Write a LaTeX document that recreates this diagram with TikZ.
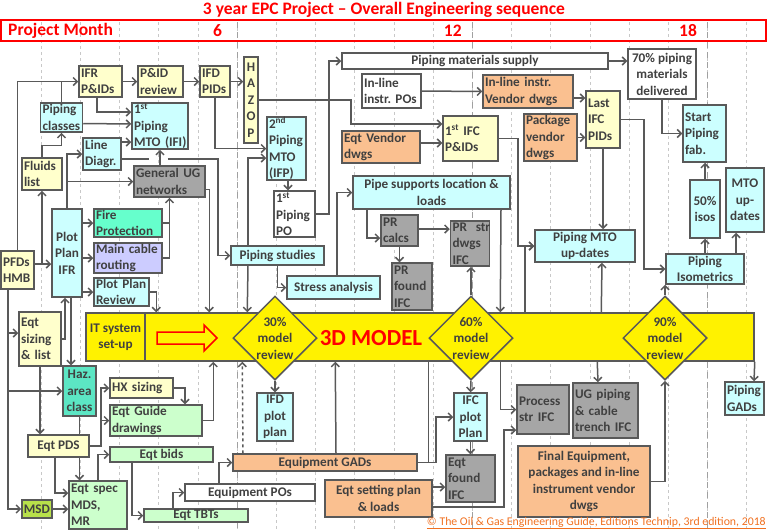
\documentclass[tikz,border=0pt]{standalone}
\usepackage{fontspec}
\setmainfont{Carlito}
\usetikzlibrary{shapes.geometric,arrows.meta,positioning}

\definecolor{lncol}{HTML}{595959}
\definecolor{txtcol}{HTML}{404040}
\definecolor{lyel}{HTML}{FFFFCC}
\definecolor{lcyan}{HTML}{CCFFFF}
\definecolor{lorange}{HTML}{FAC090}
\definecolor{lgray}{HTML}{A6A6A6}
\definecolor{lgreen}{HTML}{CCFFCC}
\definecolor{mint}{HTML}{66FFCC}
\definecolor{hazcol}{HTML}{5CE6C4}
\definecolor{lilac}{HTML}{CCCCFF}
\definecolor{limecol}{HTML}{B8E04A}
\definecolor{copycol}{HTML}{F07020}
\definecolor{gridl}{HTML}{C8C8C8}
\definecolor{gridd}{HTML}{A0A0A0}

\pgfdeclarelayer{grid}
\pgfdeclarelayer{links}
\pgfsetlayers{grid,links,main}

\begin{document}
\begin{tikzpicture}[
    x=1pt, y=-1pt,
    box/.style={rectangle, draw=lncol, line width=1.5pt, inner xsep=2pt, inner ysep=0pt, text=txtcol, font=\fontsize{13.2}{16.5}\selectfont\bfseries},
    lbox/.style={box, align=left},
    cbox/.style={box, align=center},
    sz/.style 2 args={minimum width=#1pt, minimum height=#2pt},
    review/.style={diamond, draw=lncol, line width=1.5pt, fill=yellow, aspect=1, inner sep=0pt, minimum size=84pt, align=center, text=txtcol, font=\fontsize{13.2}{16.5}\selectfont\bfseries},
    link/.style={draw=lncol, line width=1.5pt},
    arrow/.style={link, -{Straight Barb[length=4pt,width=8pt]}}
]
\useasboundingbox (0,0) rectangle (768,531);

% Month grid
\begin{pgfonlayer}{grid}
\foreach \m in {1,...,19}
  \draw[gridl, line width=0.8pt, dash pattern=on 3pt off 3pt] (2+39.2*\m,22) -- (2+39.2*\m,531);
\foreach \m in {6,12,18}
  \draw[gridd, line width=1.3pt, dash pattern=on 6pt off 4pt] (2+39.2*\m,22) -- (2+39.2*\m,531);
\end{pgfonlayer}

% Title and month bar
\node[text=red, font=\fontsize{17.5}{20}\selectfont\bfseries] (title) at (384,9.5) {3 year EPC Project – Overall Engineering sequence};
\node[draw=red, line width=1.5pt, minimum width=765pt, minimum height=21pt, inner sep=0pt] (monthbar) at (383.5,30.5) {};
\node[anchor=west, text=red, font=\fontsize{17.5}{20}\selectfont\bfseries, inner sep=0pt] (pmlabel) at (8,30.5) {Project Month};
\foreach \m/\lab in {6/6,12/12,18/18}
  \node[text=red, font=\fontsize{17.5}{20}\selectfont\bfseries, inner sep=0pt] (m\m) at (2+39.2*\m-19.6,30.5) {\lab};

% Upper left
\node[lbox, fill=lyel, sz={43}{31}, text width=39pt] (ifrpid) at (100.5,81.5) {IFR\\P\&IDs};
\node[lbox, fill=lyel, sz={45}{31}, text width=41pt] (pidrev) at (160.5,81.5) {P\&ID\\review};
\node[lbox, fill=lyel, sz={30}{31}, text width=26pt] (ifdpid) at (215,81.5) {IFD\\PIDs};
\node[cbox, fill=lyel, sz={14}{86}] (hazop) at (251,100) {H\\A\\Z\\O\\P};
\node[lbox, fill=lcyan, sz={41}{29}, text width=38pt] (pipcls) at (61.5,117.5) {Piping\\classes};
\node[lbox, fill=lcyan, sz={56}{46}, text width=52pt] (mto1) at (160,126) {1\textsuperscript{st}\\Piping\\MTO~(IFI)};
\node[lbox, fill=lcyan, sz={38}{32}, text width=34pt] (linedg) at (102,154) {Line\\Diagr.};
\node[lbox, fill=lyel, sz={40}{32}, text width=36pt] (fluids) at (42,174) {Fluids\\list};
\node[lbox, fill=lcyan, sz={39}{63}, text width=35pt] (mto2) at (286.5,148.5) {2\textsuperscript{nd}\\Piping\\MTO\\(IFP)};
\node[lbox, fill=lgray, sz={71}{31}, text width=67pt] (gug) at (169.5,181.5) {General~UG\\networks};
\node[lbox, fill=mint, sz={68}{28}, text width=64pt] (firep) at (128,223) {Fire\\Protection};
\node[lbox, fill=lilac, sz={68}{30}, text width=64pt] (cable) at (128,258) {Main~cable\\routing};
\node[lbox, fill=lcyan, sz={55}{28}, text width=51pt] (pprev) at (121.5,292) {Plot~Plan\\Review};
\node[cbox, fill=lcyan, sz={30}{88}] (ppifr) at (67,253) {Plot\\Plan\\IFR};
\node[lbox, fill=lyel, sz={33}{38}, text width=29pt] (pfd) at (17.5,270) {PFDs\\HMB};
\node[lbox, fill=lyel, sz={42}{54}, text width=38pt] (eqsz) at (40,339) {Eqt\\sizing\\\&~list};

% Upper middle and right
\node[cbox, fill=white, sz={266}{16}] (pms) at (475,61) {Piping materials supply};
\node[lbox, fill=white, sz={59}{34}, text width=55pt] (ilpo) at (391.5,91) {In-line\\instr.~POs};
\node[lbox, fill=lorange, sz={78}{32}, text width=74pt] (eqvd) at (381,147) {Eqt~Vendor\\dwgs};
\node[lbox, fill=lorange, sz={90}{33}, text width=86pt] (ilvd) at (528,91.5) {\mbox{In-line instr.}\\Vendor~dwgs};
\node[cbox, fill=white, sz={68}{50}] (p70) at (662,74) {70\% piping\\materials\\delivered};
\node[lbox, fill=lyel, sz={55}{45}, text width=51pt] (ifc1) at (470.5,138.5) {1\textsuperscript{st}~IFC\\P\&IDs};
\node[lbox, fill=lorange, sz={53}{47}, text width=49pt] (pkvd) at (550.5,137.5) {Package\\vendor\\dwgs};
\node[lbox, fill=lyel, sz={34}{57}, text width=30pt] (lastifc) at (603,119.5) {Last\\IFC\\PIDs};
\node[lbox, fill=lcyan, sz={43}{57}, text width=39pt] (startfab) at (704.5,133.5) {Start\\Piping\\fab.};
\node[cbox, fill=lcyan, sz={38}{64}] (mtoupd) at (745,200) {MTO\\up-\\dates};
\node[cbox, fill=lcyan, sz={30}{58}] (iso50) at (705,209) {50\%\\isos};
\node[cbox, fill=lcyan, sz={78}{30}] (pipiso) at (705,269) {Piping\\Isometrics};
\node[cbox, fill=lcyan, sz={100}{32}] (pmtoupd) at (585,246) {Piping MTO\\up-dates};
\node[cbox, fill=lcyan, sz={157}{33}] (pss) at (431.5,192.5) {Pipe supports location \&\\loads};
\node[lbox, fill=lgray, sz={37}{31}, text width=33pt] (prcalc) at (399.5,230.5) {PR\\calcs};
\node[lbox, fill=lgray, sz={38}{45}, text width=35pt] (prstr) at (470,243.5) {PR~~str\\dwgs\\IFC};
\node[lbox, fill=lgray, sz={40}{47}, text width=36pt] (prfound) at (412,286.5) {PR\\found\\IFC};
\node[lbox, fill=white, sz={41}{46}, text width=37pt] (po1) at (294.5,214) {1\textsuperscript{st}\\Piping\\PO};
\node[cbox, fill=lcyan, sz={93}{19}] (pstud) at (277.5,255.5) {Piping studies};
\node[cbox, fill=lcyan, sz={93}{23}] (stress) at (333.5,287.5) {Stress analysis};

% 3D model band
\node[cbox, fill=yellow, sz={59}{48}] (itsys) at (115.5,337) {IT system\\set-up};
\node[box, fill=yellow, sz={609}{48}] (model) at (449.5,337) {};
\draw[red, line width=1.5pt, fill=yellow] (157,332) -- (204,332) -- (204,325) -- (217,338) -- (204,351) -- (204,344) -- (157,344) -- cycle;
\node[text=red, font=\fontsize{23}{26}\selectfont\bfseries] (modeltxt) at (371,338) {3D MODEL};
\node[review] (rev30) at (275,338) {30\%\\model\\review};
\node[review] (rev60) at (471,338) {60\%\\model\\review};
\node[review] (rev90) at (665,338) {90\%\\model\\review};

% Lower part
\node[lbox, fill=lcyan, sz={39}{33}, text width=35pt] (pgad) at (744.5,398.5) {Piping\\GADs};
\node[cbox, fill=lcyan, sz={36}{48}] (ifdpp) at (275,417) {IFD\\plot\\plan};
\node[cbox, fill=hazcol, sz={33}{50}] (haz) at (79.5,391) {Haz.\\area\\class};
\node[lbox, fill=lyel, sz={63}{20}, text width=59pt] (hx) at (141.5,388) {HX~sizing};
\node[lbox, fill=lgreen, sz={92}{31}, text width=88pt] (eqgd) at (156,420.5) {Eqt~Guide\\drawings};
\node[cbox, fill=lyel, sz={61}{22}] (eqpds) at (58.5,446) {Eqt PDS};
\node[cbox, fill=lgreen, sz={103}{15}] (eqbid) at (161.5,454.5) {Eqt bids};
\node[cbox, fill=lorange, sz={184}{17}] (eqgad) at (325,462.5) {Equipment GADs};
\node[lbox, fill=lgreen, sz={58}{48}, text width=54pt] (eqspec) at (98,505) {Eqt~spec\\MDS,\\MR};
\node[cbox, fill=limecol, sz={30}{18}] (msd) at (37,509) {MSD};
\node[cbox, fill=white, sz={130}{17}] (eqpo) at (250,492.5) {Equipment POs};
\node[cbox, fill=lgreen, sz={104}{13}] (eqtbt) at (196,515.5) {Eqt TBTs};
\node[cbox, fill=lorange, sz={107}{37}] (eqset) at (378.5,498.5) {Eqt setting plan\\\& loads};
\node[cbox, fill=lcyan, sz={33}{48}] (ifcpp) at (470.5,417) {IFC\\plot\\Plan};
\node[lbox, fill=lgray, sz={49}{47}, text width=45pt] (eqfound) at (470.5,478.5) {Eqt\\found\\IFC};
\node[lbox, fill=lgray, sz={52}{49}, text width=48pt] (procstr) at (543,409.5) {Process\\str~IFC};
\node[lbox, fill=lgray, sz={65}{55}, text width=61pt] (ugpipe) at (605.5,410.5) {UG~piping\\\&~cable\\trench~IFC};
\node[cbox, fill=lorange, sz={132}{71}] (finaleq) at (584,481.5) {Final Equipment,\\packages and in-line\\instrument vendor\\dwgs};

\node[anchor=east, text=copycol, font=\fontsize{11.8}{13}\selectfont, inner sep=0pt] (copy) at (766,523) {\underline{© The Oil \& Gas Engineering Guide, Editions Technip, 3rd edition, 2018}};

% Arrows
\begin{pgfonlayer}{links}
\draw[arrow] (pfd.north) |- (ifrpid.west);
\draw[link] (pipcls.north) -- (pipcls.north |- ifrpid.west);
\draw[arrow] (ifrpid) -- (pidrev);
\draw[arrow] (pidrev) -- (ifdpid);
\draw[arrow] (ifdpid.east) -- (ifdpid.east -| hazop.west);
\draw[arrow] ([xshift=-3.5pt]ifrpid.south) |- ([yshift=14pt]mto1.west);
\draw[arrow] ([yshift=-6pt]pipcls.east) -- ([yshift=2pt]mto1.west);
\draw[arrow] ([yshift=12pt]linedg.east) -- ([yshift=-16pt]mto1.west);
\draw[arrow] (fluids.north) -- ++(0,-12) -| (pipcls.south);
\draw[arrow] (ppifr.north) |- (linedg.west);
\draw[arrow] (ppifr.north |- gug.west) -- (gug.west);
\draw[arrow] (mto1.south |- gug.north) -- (mto1.south);
\draw[link] ([yshift=-5pt]linedg.east) -- ++(27,0);
\draw[arrow] ([yshift=-5pt]linedg.east) ++(46,0) -- ++(50,0) |- (pstud.west);
\draw[arrow] ([yshift=-8pt]gug.east) -| ([xshift=65pt]model.north west);
\draw[arrow] (firep.east) -| (gug.south);
\draw[link] (cable.east) -| (firep.east -| gug.south);
\draw[arrow] (ppifr.east |- firep.west) -- (firep.west);
\draw[arrow] (ppifr.east |- cable.west) -- (cable.west);
\draw[arrow] (ppifr.east |- pprev.west) -- (pprev.west);
\draw[arrow] ([yshift=6pt]pfd.east) -- ([yshift=-11pt]ppifr.west);
\draw[arrow] ([yshift=6pt]pfd.east) -| (fluids.south);
\draw[arrow] (pprev.east) -| ([xshift=12pt]model.north west);
\draw[arrow] (eqsz.east) -| ([xshift=-2pt]ppifr.south);
\draw[arrow] ([xshift=4pt]ppifr.south) -- ([xshift=-8.5pt]haz.north);
\draw[arrow] ([xshift=-9.5pt]pfd.south) |- (msd.west);
\draw[arrow] ([xshift=-9.5pt]pfd.south) |- ([yshift=6pt]eqsz.west);
\draw[arrow] ([xshift=-9.5pt]pfd.south) |- (haz.west);
\draw[arrow] (eqsz.south) -- (eqsz.south |- eqpds.north);
\draw[arrow] (haz.south) -- (haz.south |- eqspec.north);
\draw[arrow] (eqpds.east) -- ++(11,0) |- (eqgd.west);
\draw[arrow] (eqpds.east) -- ++(11,0) |- (hx.west);
\draw[arrow] (hx.east) -| ([xshift=29pt]eqgd.north);
\draw[arrow] (eqgd.east) -| ([xshift=69pt]model.south west);
\draw[arrow] ([xshift=-3.5pt]eqpds.south) |- ([yshift=12pt]eqspec.west);
\draw[arrow] (msd.east) -- (msd.east -| eqspec.west);
\draw[arrow] (eqspec.north) |- (eqbid.west);
\draw[arrow] ([xshift=-29.5pt]eqbid.south) |- (eqtbt.west);
\draw[arrow] ([xshift=-23pt]eqtbt.north) |- (eqpo.west);
\draw[arrow] ([xshift=-31pt]eqpo.north) |- (eqgad.west);
\draw[arrow, dashed] ([xshift=-82pt]eqgad.north) -- ([xshift=98pt]model.south west);
\draw[arrow] ([xshift=11pt]eqgad.north) -- ([xshift=191pt]model.south west);
\draw[arrow] (eqgad.east) -- ++(18,0) |- (ifcpp.west);
\draw[arrow] (eqgad.east) -| (rev60.west);
\draw[arrow] (rev30.south) -- (ifdpp.north);
\draw[arrow] (rev60.south) -- (ifcpp.north);
\draw[arrow] (ifcpp.south) -- (eqfound.north);
\draw[arrow] ([yshift=11.5pt]eqset.east) -- ([yshift=-8.5pt]eqfound.west);
\draw[arrow] ([yshift=-8.5pt]eqset.east) -- ++(71,0) |- ([yshift=-20.5pt]procstr.west);
\draw[arrow] ([xshift=356pt]model.south west) |- (procstr.west);
\draw[arrow] ([xshift=453pt]model.south west) -- ([xshift=-7.5pt]ugpipe.north);
\draw[arrow] (finaleq.east) -| (rev90.south);
\draw[arrow] (model.south east) -- ([xshift=9.5pt]pgad.north);
\draw[arrow] (hazop.east) -- ++(92,0) |- ([yshift=14.5pt]ifc1.west);
\draw[arrow] ([yshift=4pt]eqvd.east) -- ([yshift=-4.5pt]ifc1.west);
\draw[arrow] (po1.east) -- ++(13,0) |- (pms.west);
\draw[arrow] ([xshift=1.5pt]mto2.south) -- ([xshift=-6.5pt]po1.north);
\draw[arrow] (ifdpid.south) |- (mto2.west);
\draw[arrow] ([xshift=-29.5pt]pstud.north) |- ([yshift=-9.5pt]mto2.west);
\draw[arrow] ([xshift=-29.5pt]pstud.south) -- ([xshift=103pt]model.north west);
\draw[arrow] (pstud.south) |- (stress.west);
\draw[arrow] ([xshift=3.5pt]stress.north) |- (pss.west);
\draw[arrow] ([xshift=-64.5pt]pss.south) |- ([yshift=-7.5pt]prcalc.west);
\draw[arrow] ([yshift=1.5pt]prcalc.east) -- ([yshift=14.5pt]prstr.west);
\draw[arrow] (prcalc.south) -- ([xshift=-12.5pt]prfound.north);
\draw[arrow] (rev60.north) -- ([xshift=1pt]prstr.south);
\draw[arrow] ([xshift=69.5pt]pss.south) -- ([xshift=356pt]model.north west);
\draw[arrow] (ifc1.east) -- ++(19,0) |- (pmtoupd.west);
\draw[arrow] (rev60.east) -- ++(11,0) |- (pmtoupd.west);
\draw[arrow] (lastifc.south) -- ([xshift=18pt]pmtoupd.north);
\draw[arrow] ([xshift=457pt]model.north west) -- ([xshift=17pt]pmtoupd.south);
\draw[arrow] (lastifc.east) -- ++(23,0) |- (pipiso.west);
\draw[arrow] (ilpo.east) -- (ilvd.west);
\draw[arrow] ([yshift=-6.5pt]ilvd.east) -- ([yshift=21.5pt]lastifc.west);
\draw[arrow] (pkvd.east) -- ([yshift=-18pt]lastifc.west);
\draw[arrow] (pms.east) -- ([yshift=13pt]p70.west);
\draw[arrow] (p70.south) |- (startfab.west);
\draw[arrow] (iso50.north) -- (iso50.north |- startfab.south);
\draw[arrow] (pipiso.north) -- (iso50.south);
\draw[arrow] ([xshift=31pt]pipiso.north) -- ([xshift=-9pt]mtoupd.south);
\draw[arrow] (rev90.north) -- ([xshift=-40pt]pipiso.south);
\end{pgfonlayer}
\end{tikzpicture}
\end{document}
